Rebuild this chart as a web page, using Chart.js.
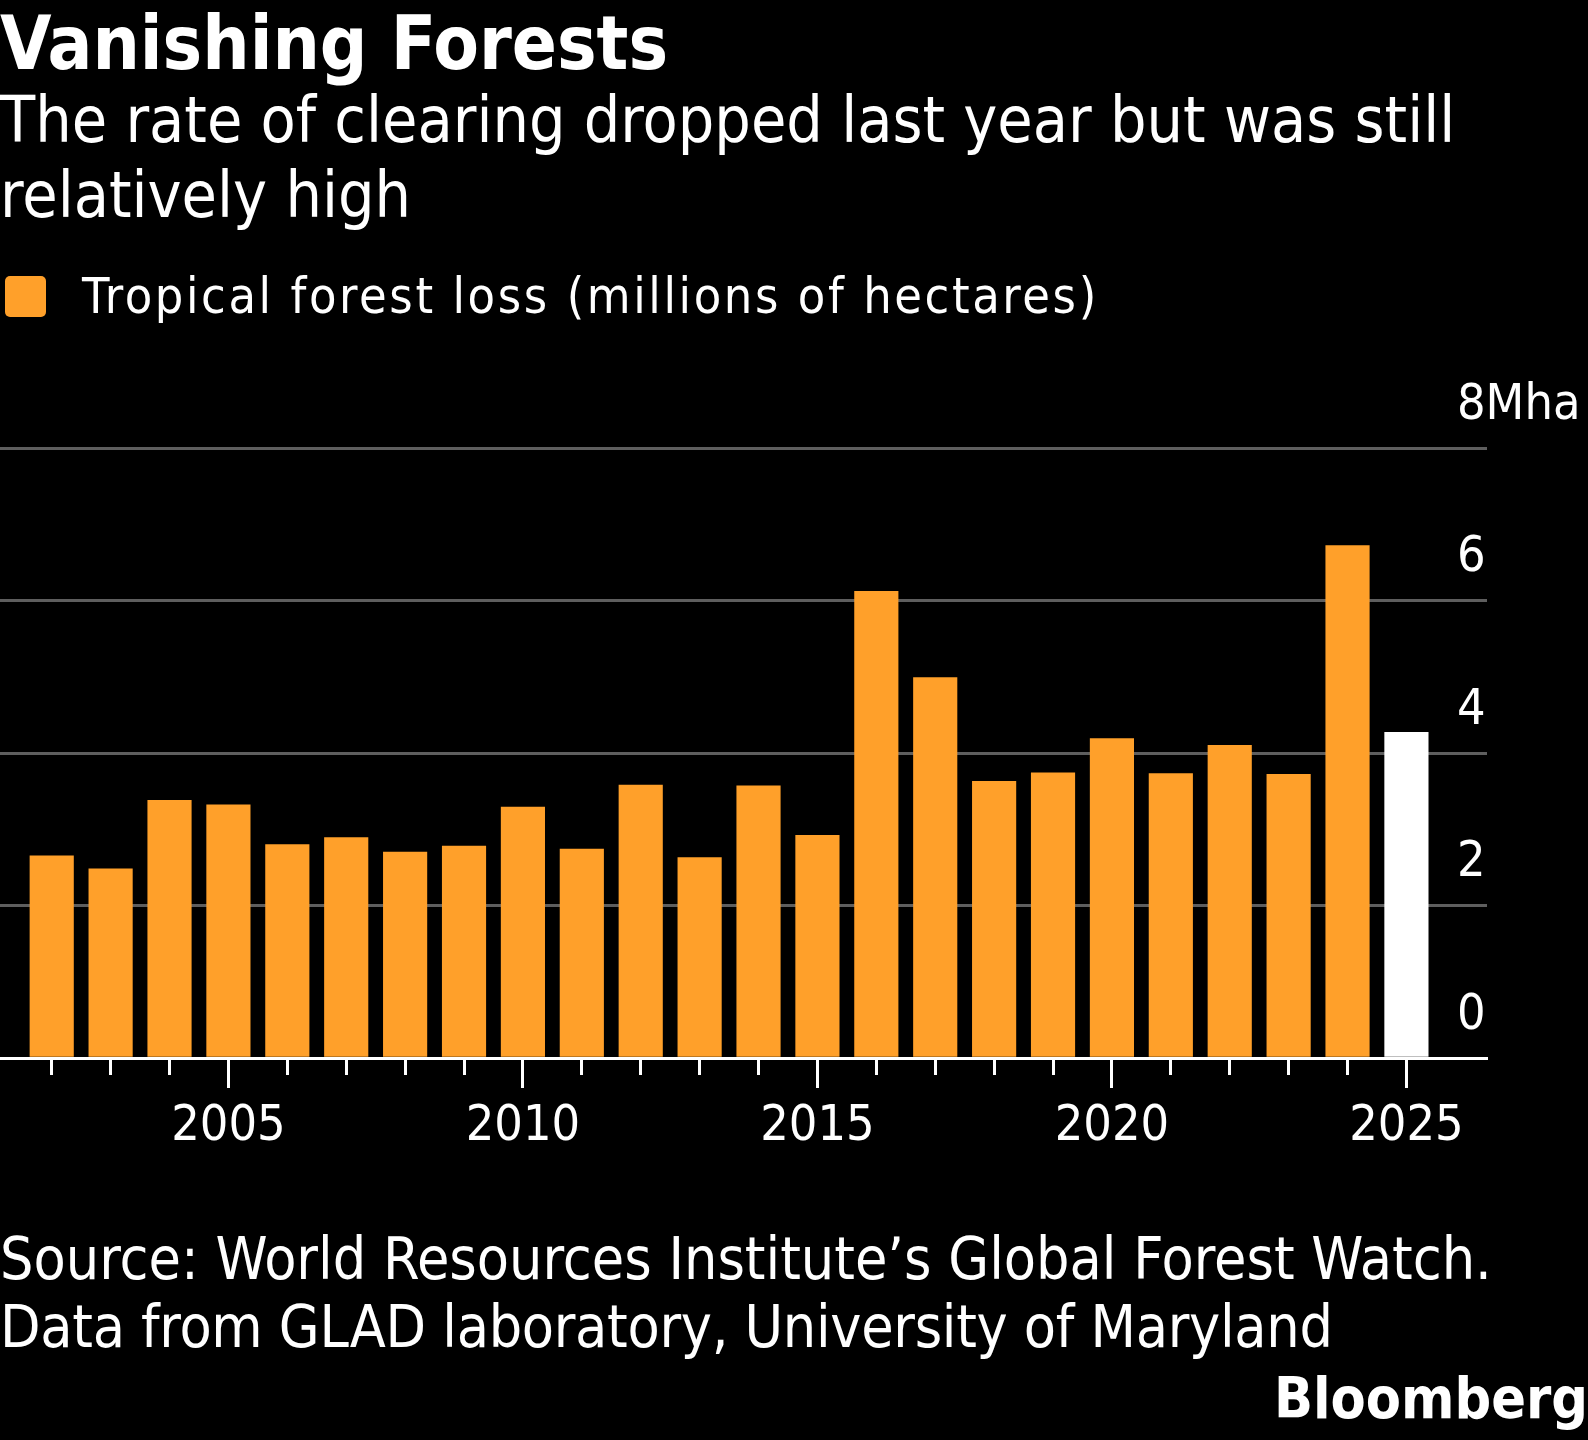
<!DOCTYPE html>
<html>
<head>
<meta charset="utf-8">
<script src="https://cdn.jsdelivr.net/npm/chart.js@4"></script>
<style>
  html, body { margin: 0; padding: 0; background: #000; }
  body { width: 1588px; height: 1440px; position: relative; overflow: hidden;
         font-family: "DejaVu Sans Condensed", "DejaVu Sans", sans-serif; font-stretch: condensed; color: #fff; }
  .txt { position: absolute; white-space: nowrap; }
  #title { left: 0; top: 6px; font-size: 74px; line-height: 74px; font-weight: bold; }
  #subtitle { left: 0; top: 83px; font-size: 64px; line-height: 75px; }
  #legendBox { position: absolute; left: 5px; top: 276px; width: 41px; height: 41px; border-radius: 5px; background: #ffa02a; }
  #legendText { left: 82px; top: 266px; font-size: 50px; line-height: 60px; letter-spacing: 2.6px; }
  #source { left: 0; top: 1225px; font-size: 58.6px; line-height: 68px; }
  #source .l2 { letter-spacing: -0.3px; }
  #brand { right: 0; top: 1370px; font-size: 57px; line-height: 57px; font-weight: bold; }
  #chartWrap { position: absolute; left: 0; top: 330px; width: 1588px; height: 850px; }
</style>
</head>
<body>
<div id="title" class="txt">Vanishing Forests</div>
<div id="subtitle" class="txt">The rate of clearing dropped last year but was still<br>relatively high</div>
<div id="legendBox"></div>
<div id="legendText" class="txt">Tropical forest loss (millions of hectares)</div>
<div id="chartWrap"><canvas id="forestChart" width="1588" height="850"></canvas></div>
<div id="source" class="txt">Source: World Resources Institute’s Global Forest Watch.<br><span class="l2">Data from GLAD laboratory, University of Maryland</span></div>
<div id="brand" class="txt">Bloomberg</div>

<script>
// Tropical primary forest loss, millions of hectares
const years = [2002, 2003, 2004, 2005, 2006, 2007, 2008, 2009, 2010, 2011, 2012, 2013,
               2014, 2015, 2016, 2017, 2018, 2019, 2020, 2021, 2022, 2023, 2024, 2025];
const lossMha = [2.65, 2.48, 3.38, 3.32, 2.80, 2.89, 2.70, 2.78, 3.29, 2.74, 3.58, 2.63,
                 3.57, 2.92, 6.12, 4.99, 3.63, 3.74, 4.19, 3.73, 4.10, 3.72, 6.72, 4.27];
const highlightYear = 2025;
const yTicks = [0, 2, 4, 6, 8];

const ORANGE = '#ffa02a';
const WHITE = '#ffffff';
const GRID = '#5e5e5e';
const FONT = '"DejaVu Sans Condensed", "DejaVu Sans", sans-serif';

Chart.defaults.font.family = FONT;
Chart.defaults.color = '#fff';

const ctx = document.getElementById('forestChart');
const g = ctx.getContext('2d');

// widest y label, so the mirrored labels can be left-aligned just inside the plot
g.font = '50px ' + FONT;
const widestY = g.measureText('8Mha').width;

new Chart(g, {
    type: 'bar',
    data: {
        datasets: [{
            label: 'Tropical forest loss (millions of hectares)',
            data: years.map((yr, i) => ({ x: yr, y: lossMha[i] })),
            backgroundColor: years.map(yr => yr === highlightYear ? WHITE : ORANGE),
            borderWidth: 0,
            barThickness: 43.5
        }]
    },
    options: {
        responsive: false,
        animation: false,
        layout: { padding: { top: 118, right: 0, bottom: 22, left: 0 } },
        plugins: {
            legend: { display: false },
            tooltip: { enabled: false }
        },
        scales: {
            x: {
                type: 'linear',
                min: 2001.122,
                max: 2026.368,
                offset: false,
                z: 1,
                afterBuildTicks: (scale) => { scale.ticks = years.map(v => ({ value: v })); },
                afterFit: (scale) => { scale.height = 100; },
                grid: {
                    display: true,
                    offset: false,
                    drawOnChartArea: false,
                    drawTicks: true,
                    tickLength: 30,
                    tickWidth: 3,
                    tickColor: '#fff',
                    // minor ticks are half length
                    tickBorderDash: (c) => (c.tick && c.tick.value % 5 === 0) ? [] : [15, 200]
                },
                border: { display: true, color: '#fff', width: 3 },
                ticks: {
                    autoSkip: false,
                    maxRotation: 0,
                    minRotation: 0,
                    padding: 9,
                    color: '#fff',
                    font: { size: 50 },
                    callback: (v) => v % 5 === 0 ? String(v) : ''
                }
            },
            y: {
                position: 'right',
                min: 0,
                max: 8,
                afterBuildTicks: (scale) => { scale.ticks = yTicks.map(v => ({ value: v })); },
                afterFit: (scale) => {
                    scale.width = 101;
                    // labels sit above their lines, no extra room needed
                    scale.paddingTop = 0;
                    scale.paddingBottom = 0;
                },
                grid: {
                    color: (c) => (c.tick && c.tick.value === 0) ? '#fff' : GRID,
                    lineWidth: 3,
                    drawTicks: false
                },
                border: { display: false },
                ticks: {
                    mirror: true,
                    crossAlign: 'far',
                    padding: widestY - 30,
                    labelOffset: -42,
                    color: '#fff',
                    font: { size: 50 },
                    callback: (v) => v === 8 ? '8Mha' : String(v)
                }
            }
        }
    }
});
</script>
</body>
</html>
